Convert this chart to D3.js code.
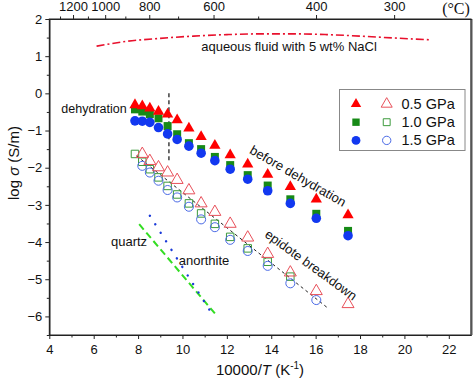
<!DOCTYPE html>
<html><head><meta charset="utf-8">
<script src="https://cdn.jsdelivr.net/npm/d3@7"></script>
<style>
body{margin:0;background:#fff;}
text{font-family:"Liberation Sans",Arial,sans-serif;fill:#111;}
</style></head>
<body><svg id="c" width="474" height="380"></svg>
<script>
// 10000/T positions of measurements
const invT = [7.86, 8.19, 8.53, 8.92, 9.33, 9.76, 10.29, 10.84, 11.46, 12.15, 12.94, 13.84, 14.86, 16.03, 17.46];
// before dehydration (filled)
const before05 = [-0.31,-0.34,-0.40,-0.49,-0.56,-0.72,-0.94,-1.17,-1.40,-1.66,-1.91,-2.18,-2.51,-2.85,-3.27];
const before10 = [-0.43,-0.49,-0.56,-0.67,-0.88,-1.10,-1.34,-1.50,-1.71,-1.93,-2.20,-2.48,-2.85,-3.24,-3.70];
const before15 = [-0.74,-0.75,-0.78,-0.92,-1.09,-1.24,-1.42,-1.61,-1.81,-2.04,-2.31,-2.62,-2.96,-3.36,-3.83];
// after dehydration / epidote breakdown (open)
const after05 = [null,-1.63,-1.82,-1.99,-2.13,-2.33,-2.61,-2.96,-3.19,-3.51,-3.88,-4.32,-4.82,-5.32,-5.67];
const after10 = [-1.63,-1.84,-2.04,-2.26,-2.49,-2.72,-2.96,-3.23,-3.51,-3.86,-4.17,-4.53,-4.93,null,null];
const after15 = [null,-1.95,-2.13,-2.35,-2.60,-2.80,-3.05,-3.39,-3.60,-3.94,-4.24,-4.64,-5.11,-5.56,null];
// reference curves
const fluidX = [6.13,7.5,9.0,10.5,12.0,13.5,15.0,16.5,18.0,19.5,21.2];
const fluidY = [1.27,1.40,1.48,1.54,1.58,1.60,1.60,1.58,1.54,1.49,1.44];
const fitX = [7.93,16.56], fitY = [-1.68,-5.78];
const quartzX = [8.05,11.46], quartzY = [-3.52,-5.92];
const anorX = [8.53,11.32], anorY = [-3.29,-5.92];
const dehydX = [9.39,9.39], dehydY = [0.0,-1.85];
// axes ticks
const xTicks = [4,6,8,10,12,14,16,18,20,22];
const yTicks = [-6,-5,-4,-3,-2,-1,0,1,2];
const tMajor = [1200,1000,800,600,400,300];
const tMinor = [1300,1100,900,700,500];
const legendLabels = ["0.5 GPa","1.0 GPa","1.5 GPa"];

const svg = d3.select("#c");
const L=49.3, R=471, T=19, B=335;
const x = d3.scaleLinear().domain([4,23]).range([L,R]);
const y = d3.scaleLinear().domain([-6.5,2]).range([B,T]);
const xTop = d3.scaleLinear().domain([6,20]).range([L,R]);
const inv = t => 10000/(t+273.15);

const ax = "#222";
// frame
svg.append("rect").attr("x",L).attr("y",T).attr("width",R-L).attr("height",B-T)
  .attr("fill","none").attr("stroke",ax).attr("stroke-width",1);
svg.append("line").attr("x1",R+0.5).attr("x2",R+0.5).attr("y1",T).attr("y2",B).attr("stroke","#555").attr("stroke-width",2);

// bottom axis
const gB = svg.append("g").attr("transform",`translate(0,${B})`);
gB.call(d3.axisBottom(x).tickValues(xTicks).tickSize(4).tickSizeOuter(0).tickFormat(d3.format("d")));
gB.append("g").call(d3.axisBottom(x).tickValues(d3.range(5,23,2)).tickSize(2.5).tickSizeOuter(0).tickFormat(""));
// left axis
const gL = svg.append("g").attr("transform",`translate(${L},0)`);
gL.call(d3.axisLeft(y).tickValues(yTicks).tickSize(4).tickSizeOuter(0).tickFormat(d3.format("d")));
gL.append("g").call(d3.axisLeft(y).tickValues(d3.range(-6.5,2,1)).tickSize(2.5).tickSizeOuter(0).tickFormat(""));
// top axis (°C)
const gT = svg.append("g").attr("transform",`translate(0,${T})`);
gT.call(d3.axisTop(xTop).tickValues(tMajor.map(inv)).tickSize(4).tickSizeOuter(0)
  .tickFormat((d,i)=>tMajor[i]));
gT.append("g").call(d3.axisTop(xTop).tickValues(tMinor.map(inv)).tickSize(2.5).tickSizeOuter(0).tickFormat(""));
svg.selectAll(".domain").attr("stroke",ax);
svg.selectAll(".tick line").attr("stroke",ax);
svg.selectAll(".tick text").style("font-size","13px").attr("fill","#111")
  .style("font-family","'Liberation Sans',Arial,sans-serif");
gB.selectAll(".tick text").attr("dy","0.95em");
gT.selectAll(".tick text").attr("dy","-0.05em");

svg.append("text").attr("x",456).attr("y",14).attr("text-anchor","middle")
  .style("font-family","'Liberation Serif','Times New Roman',serif").style("font-size","16px").text("(°C)");

// axis titles
const xt = svg.append("text").attr("x",260).attr("y",375).attr("text-anchor","middle").style("font-size","15px");
xt.append("tspan").text("10000/");
xt.append("tspan").attr("font-style","italic").text("T");
xt.append("tspan").text(" (K");
xt.append("tspan").attr("dy","-6").style("font-size","10px").text("-1");
xt.append("tspan").attr("dy","6").text(")");
const yt = svg.append("text").attr("transform","translate(19,163) rotate(-90)").attr("text-anchor","middle").style("font-size","15px");
yt.append("tspan").text("log ");
yt.append("tspan").attr("font-style","italic").text("σ");
yt.append("tspan").text(" (S/m)");

// lines
const line = d3.line().x(d=>x(d[0])).y(d=>y(d[1]));
svg.append("path").datum(d3.zip(fluidX,fluidY)).attr("d",line.curve(d3.curveMonotoneX))
  .attr("fill","none").attr("stroke","#e8112d").attr("stroke-width",1.6).attr("stroke-dasharray","8,3,2,3");
line.curve(d3.curveLinear);
svg.append("path").datum(d3.zip(dehydX,dehydY)).attr("d",line).attr("fill","none")
  .attr("stroke","#222").attr("stroke-width",1.3).attr("stroke-dasharray","4,3");
svg.append("path").datum(d3.zip(fitX,fitY)).attr("d",line).attr("fill","none")
  .attr("stroke","#222").attr("stroke-width",1).attr("stroke-dasharray","3,3");
svg.append("path").datum(d3.zip(quartzX,quartzY)).attr("d",line).attr("fill","none")
  .attr("stroke","#33dd22").attr("stroke-width",2).attr("stroke-dasharray","7,4");
svg.append("path").datum(d3.zip(anorX,anorY)).attr("d",line).attr("fill","none")
  .attr("stroke","#1a3ad8").attr("stroke-width",2.4).attr("stroke-linecap","round").attr("stroke-dasharray","0.1,10");

// markers
const series = [
  {v:before05, sym:d3.symbolTriangle, size:55, fill:"#ff0000", stroke:"none"},
  {v:before10, sym:d3.symbolSquare, size:64, fill:"#168a16", stroke:"none"},
  {v:before15, sym:d3.symbolCircle, size:72, fill:"#1238f0", stroke:"none"},
  {v:after10, sym:d3.symbolSquare, size:56, fill:"none", stroke:"#3c9a3c"},
  {v:after15, sym:d3.symbolCircle, size:64, fill:"none", stroke:"#4a6ae6"},
  {v:after05, sym:d3.symbolTriangle, size:62, fill:"none", stroke:"#e8505a"}
];
const order = [3,4,5,1,2,0];
order.forEach(i=>{
  const s = series[i];
  const pts = invT.map((t,k)=>[t,s.v[k]]).filter(d=>d[1]!=null);
  svg.append("g").selectAll("path").data(pts).join("path")
    .attr("transform",d=>`translate(${x(d[0])},${y(d[1])})`)
    .attr("d",d3.symbol(s.sym,s.size)())
    .attr("fill",s.fill).attr("stroke",s.stroke).attr("stroke-width",1);
});

// annotations
const ann = (tx,ty,txt,rot,fs)=>svg.append("text")
  .attr("transform",`translate(${tx},${ty}) rotate(${rot})`).attr("text-anchor","middle")
  .attr("dominant-baseline","central").style("font-size",fs+"px").text(txt);
ann(289,46,"aqueous fluid with 5 wt% NaCl",0,13);
ann(94,109,"dehydration",0,12.5);
ann(298,176,"before dehydration",30,13);
ann(311,265,"epidote breakdown",36,13);
ann(129,241,"quartz",0,13);
ann(204,260,"anorthite",0,13);

// legend
const lg = svg.append("g");
lg.append("rect").attr("x",339.5).attr("y",89.5).attr("width",125.5).attr("height",61)
  .attr("fill","#fff").attr("stroke","#888").attr("stroke-width",1);
const legRows = [[0,5],[1,3],[2,4]];
legRows.forEach((p,r)=>{
  const yy = 104 + r*18.2;
  const a = series[p[0]], b = series[p[1]];
  lg.append("path").attr("transform",`translate(356,${yy})`).attr("d",d3.symbol(a.sym,a.size*0.85)())
    .attr("fill",a.fill).attr("stroke",a.stroke);
  lg.append("path").attr("transform",`translate(386.7,${yy})`).attr("d",d3.symbol(b.sym,b.size*0.85)())
    .attr("fill",b.fill).attr("stroke",b.stroke);
  lg.append("text").attr("x",401.5).attr("y",yy).attr("dominant-baseline","central")
    .style("font-size","14.5px").text(legendLabels[r]);
});
</script></body></html>
